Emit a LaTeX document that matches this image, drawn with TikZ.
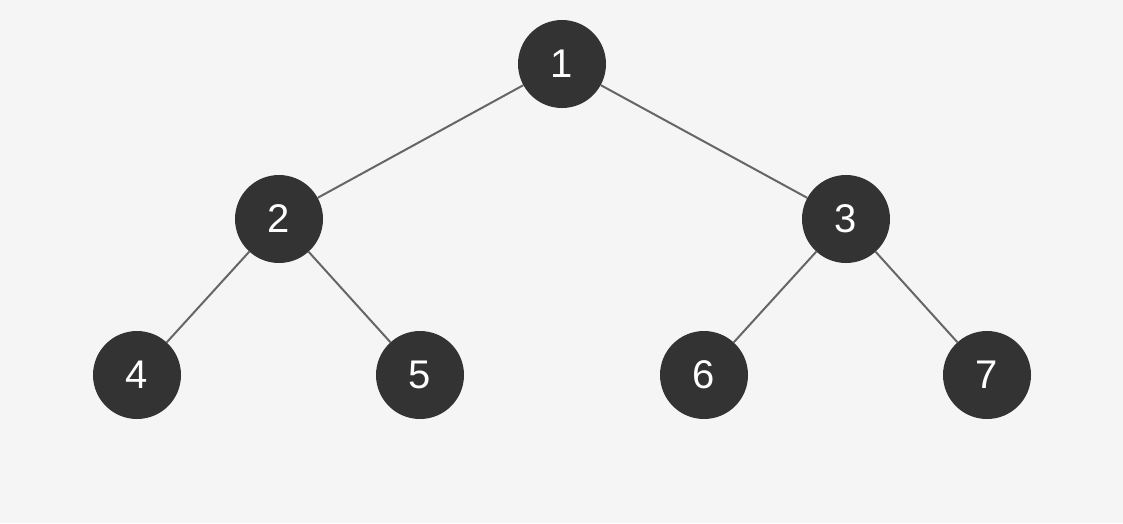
\documentclass[tikz,border=0pt]{standalone}
\usepackage{fontspec}
\setmainfont{Liberation Sans}
\definecolor{bg}{HTML}{F5F5F5}
\definecolor{nd}{HTML}{333333}
\definecolor{ln}{HTML}{666666}
\begin{document}
\begin{tikzpicture}[x=1pt,y=-1pt,
  tn/.style={circle,fill=nd,minimum size=88pt,inner sep=0pt,text=white,font=\fontsize{40}{40}\selectfont},
  edge/.style={draw=ln,line width=2pt}]
\fill[bg] (0,0) rectangle (1123,523);
\useasboundingbox (0,0) rectangle (1123,523);
\node[tn] (n1) at (562,64) {1};
\node[tn] (n2) at (279,219) {2};
\node[tn] (n3) at (846,219) {3};
\node[tn] (n4) at (137,375) {4};
\node[tn] (n5) at (420,375) {5};
\node[tn] (n6) at (704,375) {6};
\node[tn] (n7) at (987,375) {7};
\draw[edge] (n1) -- (n2);
\draw[edge] (n1) -- (n3);
\draw[edge] (n2) -- (n4);
\draw[edge] (n2) -- (n5);
\draw[edge] (n3) -- (n6);
\draw[edge] (n3) -- (n7);
\end{tikzpicture}
\end{document}
